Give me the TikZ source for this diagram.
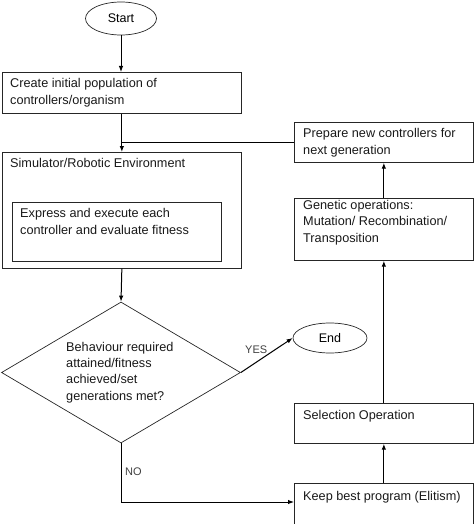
\documentclass[tikz,border=0pt]{standalone}
\usepackage{fontspec}
\setmainfont{Liberation Sans}
\usetikzlibrary{shapes.geometric,arrows.meta,calc}
\begin{document}
\begin{tikzpicture}[x=1pt,y=-1pt,
  boxnode/.style={draw=black!85,line width=0.7pt,rectangle,inner sep=0pt,anchor=north west},
  ovalnode/.style={draw=black!85,line width=0.7pt,ellipse,inner sep=0pt},
  txt/.style={font=\fontsize{12.7}{16.2}\selectfont,align=left,inner sep=0pt,anchor=base west,text=black!90},
  lbl/.style={font=\fontsize{11}{13}\selectfont,inner sep=0pt,anchor=base west,text=black!75},
  arr/.style={line width=1pt,-{Latex[length=6pt,width=4.5pt]}},
  ln/.style={line width=1pt}]
\useasboundingbox (0,0) rectangle (474,524);
\clip (0,0) rectangle (474,524);
% nodes
\node[ovalnode,minimum width=71pt,minimum height=33pt,font=\fontsize{12.5}{15}\selectfont] (start) at (121,18.5) {Start};
\node[boxnode,minimum width=239pt,minimum height=41pt] (box1) at (2,72) {};
\node[txt] (t1) at (10,104) {Create initial population of\\controllers/organism};
\node[boxnode,minimum width=239pt,minimum height=116pt] (box2) at (2,152) {};
\node[txt] (t2) at (10,167) {Simulator/Robotic Environment};
\node[boxnode,minimum width=209pt,minimum height=59pt] (inner) at (12,202) {};
\node[txt] (t3) at (20,234) {Express and execute each\\controller and evaluate fitness};
\node[draw=black!85,line width=0.7pt,diamond,inner sep=0pt,aspect=1.7,minimum width=239pt,minimum height=141pt] (dia) at (121,372.5) {};
\node[txt] (t4) at (66,400) {Behaviour required\\attained/fitness\\achieved/set\\generations met?};
\node[ovalnode,minimum width=74pt,minimum height=30pt,font=\fontsize{12.5}{15}\selectfont] (end) at (330,338) {End};
\node[boxnode,minimum width=179pt,minimum height=40pt] (prep) at (294,122) {};
\node[txt] (t5) at (303,154) {Prepare new controllers for\\next generation};
\node[boxnode,minimum width=179pt,minimum height=62pt] (gen) at (294,198) {};
\node[txt] (t6) at (303,242) {Genetic operations:\\Mutation/ Recombination/\\Transposition};
\node[boxnode,minimum width=179pt,minimum height=40pt] (sel) at (294,403) {};
\node[txt] (t7) at (303,419) {Selection Operation};
\node[boxnode,minimum width=179pt,minimum height=60pt] (keep) at (294,483) {};
\node[txt] (t8) at (303,500) {Keep best program (Elitism)};
\coordinate (noin) at ($(keep.north west)+(0,19)$);
\node[lbl] (yes) at (245,353) {YES};
\node[lbl] (no) at (125,475) {NO};
% connectors
\draw[arr] (start.south) -- (start.south |- box1.north);
\draw[arr] (box1.south) -- (box2.north);
\draw[ln] (prep.west) -- (prep.west -| box1.south);
\draw[arr] (box2.south) -- (dia.north);
\draw[arr] (dia.east) -- (end.west);
\draw[arr] (dia.south) |- (noin);
\draw[arr] (keep.north) -- (sel.south);
\draw[arr] (sel.north) -- (gen.south);
\draw[arr] (gen.north) -- (prep.south);
\end{tikzpicture}
\end{document}
